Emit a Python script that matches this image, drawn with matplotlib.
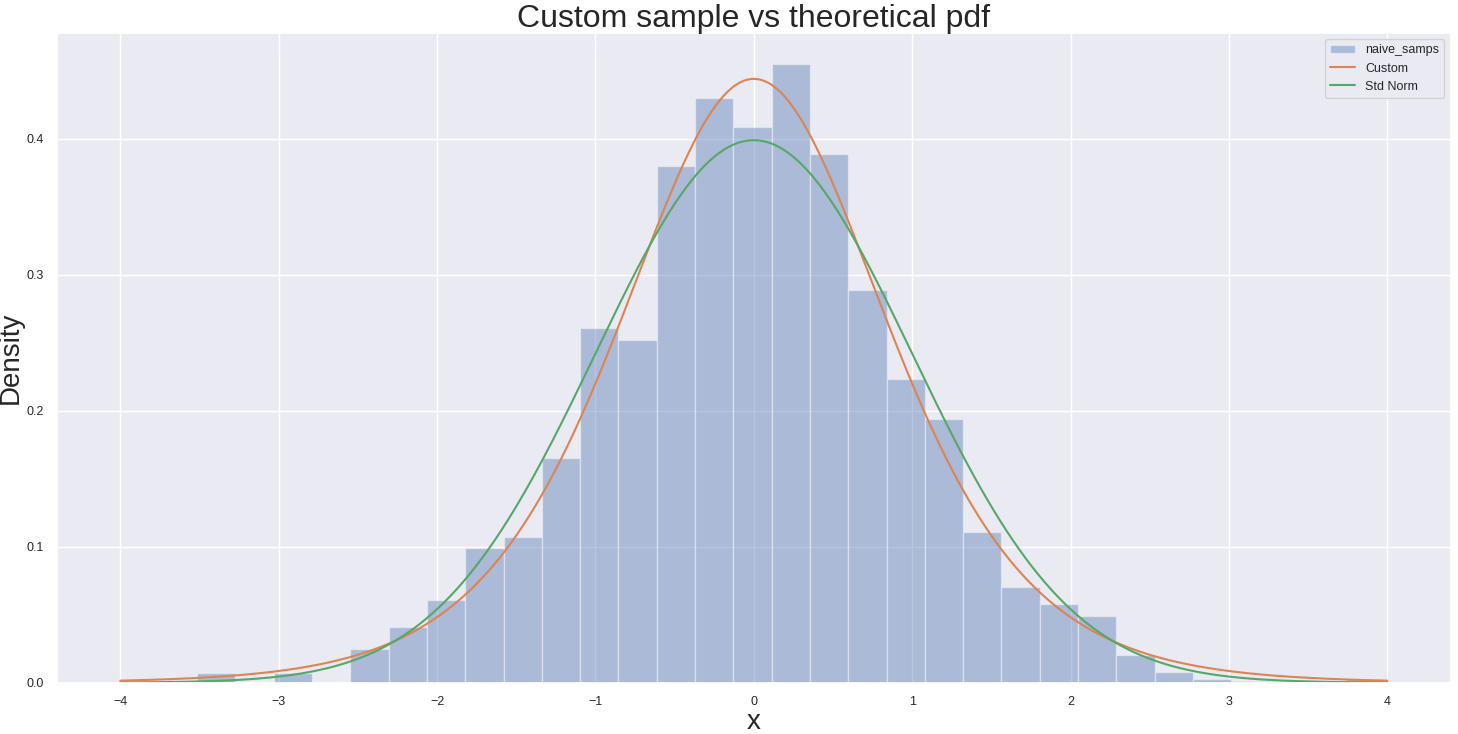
import numpy as np
import matplotlib
matplotlib.use("Agg")
import matplotlib.pyplot as plt
import seaborn as sns

sns.set_theme(style="darkgrid")
plt.rcParams['font.family'] = ['Liberation Sans', 'DejaVu Sans']

bin_start = -3.514
bin_width = 0.2418
heights = [0.007, 0.0, 0.007, 0.0, 0.025, 0.041, 0.061, 0.099, 0.107, 0.165,
           0.261, 0.252, 0.380, 0.430, 0.409, 0.455, 0.389, 0.289, 0.223, 0.194,
           0.111, 0.070, 0.058, 0.049, 0.020, 0.008, 0.003, 0.001, 0.0, 0.0, 0.003]
edges = bin_start + bin_width * np.arange(len(heights) + 1)

logistic_scale = 0.563
x = np.linspace(-4, 4, 400)
custom = np.exp(-x / logistic_scale) / (logistic_scale * (1 + np.exp(-x / logistic_scale)) ** 2)
stdnorm = np.exp(-x ** 2 / 2) / np.sqrt(2 * np.pi)

fig, ax = plt.subplots(figsize=(14.58, 7.34), dpi=100)
ax.hist(edges[:-1], bins=edges, weights=heights, alpha=0.4, color='C0', label='naive_samps')
ax.plot(x, custom, color='C1', label='Custom')
ax.plot(x, stdnorm, color='C2', label='Std Norm')
ax.set_title('Custom sample vs theoretical pdf', fontsize=23, pad=4)
ax.set_xlabel('x', fontsize=20, labelpad=1)
ax.set_ylabel('Density', fontsize=20, labelpad=2)
ax.tick_params(labelsize=9)
ax.set_xlim(-4.4, 4.4)
ax.legend(loc='upper right', fontsize=9)
fig.subplots_adjust(left=0.039, right=0.995, top=0.955, bottom=0.07)
fig.savefig('out.png', dpi=100)
